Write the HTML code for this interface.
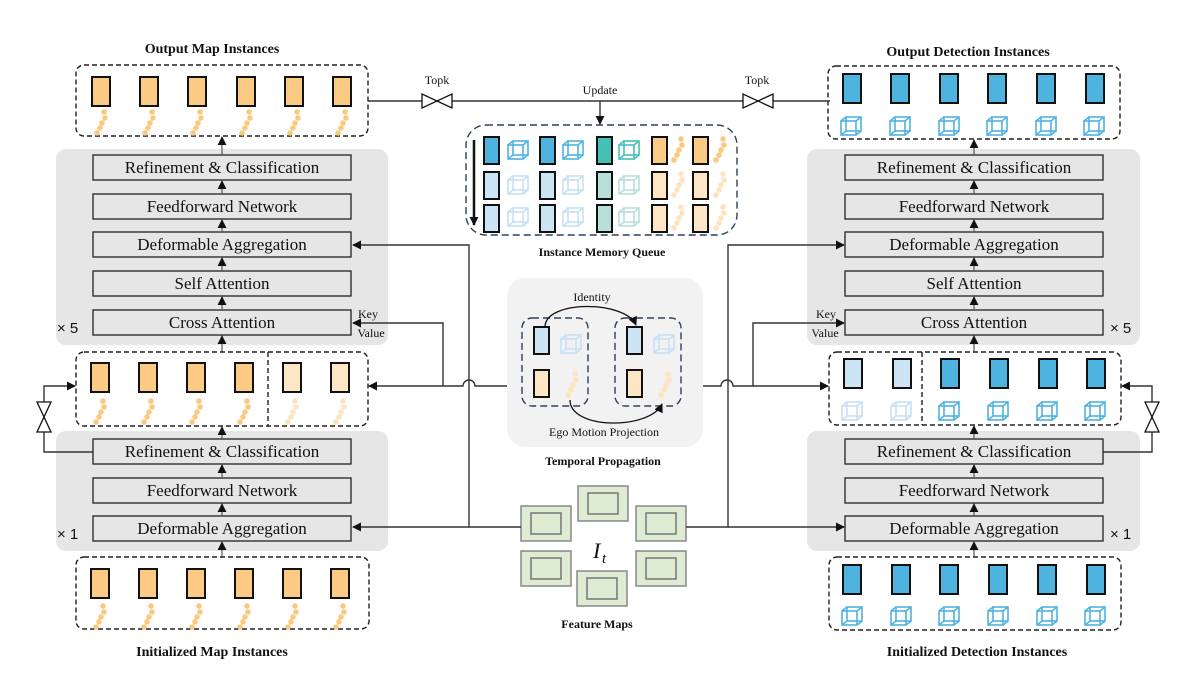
<!DOCTYPE html>
<html><head><meta charset="utf-8"><style>
html,body{margin:0;padding:0;background:#fff}
svg{display:block}
text{font-family:"Liberation Serif",serif;fill:#111}
.b{font-weight:bold;font-size:14px}
.m{font-size:17px}
.s{font-size:12px}
</style></head><body>
<svg width="1201" height="673" viewBox="0 0 1201 673" xmlns="http://www.w3.org/2000/svg">
<defs>
<marker id="ar" viewBox="0 0 10 10" refX="9" refY="5" markerWidth="9" markerHeight="9" markerUnits="userSpaceOnUse" orient="auto"><path d="M0,0L10,5L0,10z" fill="#111"/></marker>
<symbol id="dO" overflow="visible"><g fill="#f9c97f"><circle cx="9" cy="0" r="2.8"/><circle cx="10" cy="6" r="2.8"/><circle cx="7" cy="11" r="2.8"/><circle cx="5" cy="16" r="2.8"/><circle cx="2" cy="21" r="2.8"/></g></symbol>
<symbol id="dL" overflow="visible"><g fill="#fde3bf"><circle cx="9" cy="0" r="2.8"/><circle cx="10" cy="6" r="2.8"/><circle cx="7" cy="11" r="2.8"/><circle cx="5" cy="16" r="2.8"/><circle cx="2" cy="21" r="2.8"/></g></symbol>
<symbol id="cB" overflow="visible"><g fill="none" stroke="#4fb3e2" stroke-width="1.6"><rect x="0" y="4" width="15" height="14"/><rect x="5" y="0" width="15" height="14"/><path d="M0,4L5,0M15,4L20,0M15,18L20,14M0,18L5,14"/></g></symbol>
<symbol id="cL" overflow="visible"><g fill="none" stroke="#c6e0f4" stroke-width="1.6"><rect x="0" y="4" width="15" height="14"/><rect x="5" y="0" width="15" height="14"/><path d="M0,4L5,0M15,4L20,0M15,18L20,14M0,18L5,14"/></g></symbol>
<symbol id="cT" overflow="visible"><g fill="none" stroke="#45c0b5" stroke-width="1.6"><rect x="0" y="4" width="15" height="14"/><rect x="5" y="0" width="15" height="14"/><path d="M0,4L5,0M15,4L20,0M15,18L20,14M0,18L5,14"/></g></symbol>
<symbol id="cTL" overflow="visible"><g fill="none" stroke="#b8dfda" stroke-width="1.6"><rect x="0" y="4" width="15" height="14"/><rect x="5" y="0" width="15" height="14"/><path d="M0,4L5,0M15,4L20,0M15,18L20,14M0,18L5,14"/></g></symbol>
<symbol id="rO" overflow="visible"><rect x="0" y="0" width="18" height="29" fill="#fbcb85" stroke="#111" stroke-width="2"/></symbol>
<symbol id="rOL" overflow="visible"><rect x="0" y="0" width="18" height="29" fill="#fde6c6" stroke="#111" stroke-width="2"/></symbol>
<symbol id="rB" overflow="visible"><rect x="0" y="0" width="18" height="29" fill="#4fb3e0" stroke="#111" stroke-width="2"/></symbol>
<symbol id="rBL" overflow="visible"><rect x="0" y="0" width="18" height="29" fill="#cde4f5" stroke="#111" stroke-width="2"/></symbol>
<symbol id="sB" overflow="visible"><rect x="0" y="0" width="15" height="27" fill="#4fb3e0" stroke="#111" stroke-width="2"/></symbol>
<symbol id="sBL" overflow="visible"><rect x="0" y="0" width="15" height="27" fill="#cde4f5" stroke="#111" stroke-width="2"/></symbol>
<symbol id="sT" overflow="visible"><rect x="0" y="0" width="15" height="27" fill="#45c0b5" stroke="#111" stroke-width="2"/></symbol>
<symbol id="sTL" overflow="visible"><rect x="0" y="0" width="15" height="27" fill="#b8dfda" stroke="#111" stroke-width="2"/></symbol>
<symbol id="sO" overflow="visible"><rect x="0" y="0" width="15" height="27" fill="#fbcb85" stroke="#111" stroke-width="2"/></symbol>
<symbol id="sOL" overflow="visible"><rect x="0" y="0" width="15" height="27" fill="#fde6c6" stroke="#111" stroke-width="2"/></symbol>
<symbol id="fm" overflow="visible"><rect x="0" y="0" width="50" height="35" fill="#dfecd4" stroke="#888" stroke-width="1.5"/><rect x="10" y="7" width="30" height="21" fill="#dfecd4" stroke="#777" stroke-width="1.5"/></symbol>
<symbol id="bt" overflow="visible"><path d="M-7,-15L7,-15L-7,15L7,15Z" fill="#fff" stroke="#111" stroke-width="1.3"/></symbol>
<symbol id="bth" overflow="visible"><path d="M-15,-7L-15,7L15,-7L15,7Z" fill="#fff" stroke="#111" stroke-width="1.3"/></symbol>
</defs>

<rect x="56" y="149" width="332" height="196" rx="10" fill="#e6e6e6"/>
<rect x="56" y="431" width="332" height="120" rx="10" fill="#e6e6e6"/>
<rect x="807" y="149" width="333" height="196" rx="10" fill="#e6e6e6"/>
<rect x="807" y="431" width="333" height="120" rx="10" fill="#e6e6e6"/>
<rect x="507" y="278" width="196" height="169" rx="18" fill="#f2f2f2"/>

<text class="b" x="212" y="53" text-anchor="middle">Output Map Instances</text>
<text class="b" x="968" y="56" text-anchor="middle">Output Detection Instances</text>
<text class="b" x="212" y="656" text-anchor="middle">Initialized Map Instances</text>
<text class="b" x="977" y="656" text-anchor="middle">Initialized Detection Instances</text>
<text class="b" x="602" y="256" text-anchor="middle" style="font-size:12px">Instance Memory Queue</text>
<text class="b" x="603" y="465" text-anchor="middle" style="font-size:12px">Temporal Propagation</text>
<text class="b" x="597" y="628" text-anchor="middle" style="font-size:12px">Feature Maps</text>

<g fill="#e6e6e6" stroke="#222" stroke-width="1.3">
<rect x="93" y="155" width="258" height="25"/><rect x="93" y="194" width="258" height="25"/><rect x="93" y="232" width="258" height="25"/><rect x="93" y="271" width="258" height="25"/><rect x="93" y="310" width="258" height="25"/>
<rect x="93" y="439" width="258" height="25"/><rect x="93" y="478" width="258" height="25"/><rect x="93" y="516" width="258" height="25"/>
<rect x="845" y="155" width="258" height="25"/><rect x="845" y="194" width="258" height="25"/><rect x="845" y="232" width="258" height="25"/><rect x="845" y="271" width="258" height="25"/><rect x="845" y="310" width="258" height="25"/>
<rect x="845" y="439" width="258" height="25"/><rect x="845" y="478" width="258" height="25"/><rect x="845" y="516" width="258" height="25"/>
</g>
<g text-anchor="middle">
<text class="m" x="222" y="173">Refinement &amp; Classification</text>
<text class="m" x="222" y="212">Feedforward Network</text>
<text class="m" x="222" y="250">Deformable Aggregation</text>
<text class="m" x="222" y="289">Self Attention</text>
<text class="m" x="222" y="328">Cross Attention</text>
<text class="m" x="222" y="457">Refinement &amp; Classification</text>
<text class="m" x="222" y="496">Feedforward Network</text>
<text class="m" x="222" y="534">Deformable Aggregation</text>
<text class="m" x="974" y="173">Refinement &amp; Classification</text>
<text class="m" x="974" y="212">Feedforward Network</text>
<text class="m" x="974" y="250">Deformable Aggregation</text>
<text class="m" x="974" y="289">Self Attention</text>
<text class="m" x="974" y="328">Cross Attention</text>
<text class="m" x="974" y="457">Refinement &amp; Classification</text>
<text class="m" x="974" y="496">Feedforward Network</text>
<text class="m" x="974" y="534">Deformable Aggregation</text>
</g>
<text x="57" y="333" style="font-family:'Liberation Sans',sans-serif;font-size:15px">× 5</text>
<text x="57" y="539" style="font-family:'Liberation Sans',sans-serif;font-size:15px">× 1</text>
<text x="1110" y="333" style="font-family:'Liberation Sans',sans-serif;font-size:15px">× 5</text>
<text x="1110" y="539" style="font-family:'Liberation Sans',sans-serif;font-size:15px">× 1</text>

<g stroke="#555" stroke-width="1.2" marker-end="url(#ar)">
<line x1="222" y1="194" x2="222" y2="181"/><line x1="222" y1="232" x2="222" y2="220"/><line x1="222" y1="271" x2="222" y2="258"/><line x1="222" y1="310" x2="222" y2="297"/>
<line x1="222" y1="352" x2="222" y2="336"/><line x1="222" y1="155" x2="222" y2="137"/>
<line x1="222" y1="439" x2="222" y2="427"/><line x1="222" y1="478" x2="222" y2="465"/><line x1="222" y1="516" x2="222" y2="504"/><line x1="222" y1="557" x2="222" y2="542"/>
<line x1="974" y1="194" x2="974" y2="181"/><line x1="974" y1="232" x2="974" y2="220"/><line x1="974" y1="271" x2="974" y2="258"/><line x1="974" y1="310" x2="974" y2="297"/>
<line x1="974" y1="352" x2="974" y2="336"/><line x1="974" y1="155" x2="974" y2="140"/>
<line x1="974" y1="439" x2="974" y2="426"/><line x1="974" y1="478" x2="974" y2="465"/><line x1="974" y1="516" x2="974" y2="504"/><line x1="974" y1="557" x2="974" y2="542"/>
</g>

<g fill="none" stroke="#222" stroke-width="1.4" stroke-dasharray="5,3">
<rect x="76" y="65" width="292" height="71" rx="8"/>
<rect x="76" y="352" width="292" height="74" rx="8"/><line x1="268" y1="352" x2="268" y2="426"/>
<rect x="76" y="557" width="293" height="72" rx="8"/>
<rect x="828" y="66" width="292" height="73" rx="8"/>
<rect x="829" y="352" width="292" height="73" rx="8"/><line x1="922" y1="352" x2="922" y2="425"/>
<rect x="829" y="557" width="292" height="73" rx="8"/>
</g>
<g fill="none" stroke="#2f3f5f" stroke-width="1.4" stroke-dasharray="7,4">
<rect x="466" y="125" width="271" height="110" rx="20"/>
<rect x="522" y="318" width="66" height="88" rx="10"/>
<rect x="615" y="318" width="66" height="88" rx="10"/>
</g>

<g>
<use href="#rO" x="92" y="77"/><use href="#rO" x="140" y="77"/><use href="#rO" x="188" y="77"/><use href="#rO" x="237" y="77"/><use href="#rO" x="285" y="77"/><use href="#rO" x="333" y="77"/>
<use href="#dO" x="95" y="112"/><use href="#dO" x="143" y="112"/><use href="#dO" x="191" y="112"/><use href="#dO" x="240" y="112"/><use href="#dO" x="288" y="112"/><use href="#dO" x="336" y="112"/>
<use href="#rO" x="91" y="363"/><use href="#rO" x="139" y="363"/><use href="#rO" x="187" y="363"/><use href="#rO" x="235" y="363"/><use href="#rOL" x="283" y="363"/><use href="#rOL" x="331" y="363"/>
<use href="#dO" x="94" y="401"/><use href="#dO" x="142" y="401"/><use href="#dO" x="190" y="401"/><use href="#dO" x="238" y="401"/><use href="#dL" x="286" y="401"/><use href="#dL" x="334" y="401"/>
<use href="#rO" x="91" y="569"/><use href="#rO" x="139" y="569"/><use href="#rO" x="187" y="569"/><use href="#rO" x="235" y="569"/><use href="#rO" x="283" y="569"/><use href="#rO" x="331" y="569"/>
<use href="#dO" x="94" y="606"/><use href="#dO" x="142" y="606"/><use href="#dO" x="190" y="606"/><use href="#dO" x="238" y="606"/><use href="#dO" x="286" y="606"/><use href="#dO" x="334" y="606"/>
</g>
<g>
<use href="#rB" x="843" y="74"/><use href="#rB" x="891" y="74"/><use href="#rB" x="940" y="74"/><use href="#rB" x="988" y="74"/><use href="#rB" x="1037" y="74"/><use href="#rB" x="1086" y="74"/>
<use href="#cB" x="841" y="117"/><use href="#cB" x="890" y="117"/><use href="#cB" x="939" y="117"/><use href="#cB" x="987" y="117"/><use href="#cB" x="1036" y="117"/><use href="#cB" x="1084" y="117"/>
<use href="#rBL" x="844" y="359"/><use href="#rBL" x="893" y="359"/><use href="#rB" x="941" y="359"/><use href="#rB" x="990" y="359"/><use href="#rB" x="1039" y="359"/><use href="#rB" x="1087" y="359"/>
<use href="#cL" x="842" y="402"/><use href="#cL" x="891" y="402"/><use href="#cB" x="939" y="402"/><use href="#cB" x="988" y="402"/><use href="#cB" x="1037" y="402"/><use href="#cB" x="1085" y="402"/>
<use href="#rB" x="843" y="565"/><use href="#rB" x="892" y="565"/><use href="#rB" x="940" y="565"/><use href="#rB" x="989" y="565"/><use href="#rB" x="1038" y="565"/><use href="#rB" x="1087" y="565"/>
<use href="#cB" x="842" y="607"/><use href="#cB" x="891" y="607"/><use href="#cB" x="939" y="607"/><use href="#cB" x="988" y="607"/><use href="#cB" x="1037" y="607"/><use href="#cB" x="1085" y="607"/>
</g>

<line x1="474" y1="140" x2="474" y2="225" stroke="#111" stroke-width="2.5" marker-end="url(#ar)"/>
<g>
<use href="#sB" x="484" y="137"/><use href="#cB" x="508" y="141"/><use href="#sB" x="540" y="137"/><use href="#cB" x="563" y="141"/><use href="#sT" x="597" y="137"/><use href="#cT" x="619" y="141"/><use href="#sO" x="652" y="137"/><use href="#dO" x="672" y="139"/><use href="#sO" x="693" y="137"/><use href="#dO" x="714" y="139"/>
<use href="#sBL" x="484" y="172"/><use href="#cL" x="508" y="176"/><use href="#sBL" x="540" y="172"/><use href="#cL" x="563" y="176"/><use href="#sTL" x="597" y="172"/><use href="#cTL" x="619" y="176"/><use href="#sOL" x="652" y="172"/><use href="#dL" x="672" y="174"/><use href="#sOL" x="693" y="172"/><use href="#dL" x="714" y="174"/>
<use href="#sBL" x="484" y="205"/><use href="#cL" x="508" y="208"/><use href="#sBL" x="540" y="205"/><use href="#cL" x="563" y="208"/><use href="#sTL" x="597" y="205"/><use href="#cTL" x="619" y="208"/><use href="#sOL" x="652" y="205"/><use href="#dL" x="672" y="207"/><use href="#sOL" x="693" y="205"/><use href="#dL" x="714" y="207"/>
</g>

<use href="#sBL" x="534" y="327"/><use href="#cL" x="561" y="335"/>
<use href="#sOL" x="534" y="370"/><use href="#dL" x="566" y="374"/>
<use href="#sBL" x="627" y="327"/><use href="#cL" x="654" y="335"/>
<use href="#sOL" x="627" y="370"/><use href="#dL" x="659" y="374"/>
<text class="s" x="592" y="301" text-anchor="middle">Identity</text>
<text class="s" x="604" y="436" text-anchor="middle">Ego Motion Projection</text>
<path d="M545,327 C545,300 625,300 636,325" fill="none" stroke="#111" stroke-width="1.3" marker-end="url(#ar)"/>
<path d="M570,400 C570,430 650,430 662,404" fill="none" stroke="#111" stroke-width="1.3" marker-end="url(#ar)"/>

<use href="#fm" x="578" y="486"/><use href="#fm" x="521" y="506"/><use href="#fm" x="636" y="506"/>
<use href="#fm" x="521" y="551"/><use href="#fm" x="636" y="551"/><use href="#fm" x="577" y="571"/>
<text x="593" y="558" style="font-size:22px;font-style:italic">I</text><text x="602" y="563" style="font-size:15px;font-style:italic">t</text>

<g fill="none" stroke="#333" stroke-width="1.4">
<path d="M368,101 H830"/>
<path d="M600,101 V124" marker-end="url(#ar)"/>
<path d="M521,527 H469 V245 H353" marker-end="url(#ar)"/>
<path d="M469,527 H353" marker-end="url(#ar)"/>
<path d="M507,386 H475 A6,6 0 0 0 463,386 H369" marker-end="url(#ar)"/>
<path d="M443,386 V323 H353" marker-end="url(#ar)"/>
<path d="M93,452 H44 V386 H75" marker-end="url(#ar)"/>
<path d="M686,527 H728 V245 H844" marker-end="url(#ar)"/>
<path d="M728,527 H844" marker-end="url(#ar)"/>
<path d="M703,386 H721 A6,6 0 0 1 733,386 H828" marker-end="url(#ar)"/>
<path d="M753,386 V323 H844" marker-end="url(#ar)"/>
<path d="M1103,452 H1152 V386 H1122" marker-end="url(#ar)"/>
</g>
<use href="#bth" x="437" y="101"/><use href="#bth" x="758" y="101"/>
<use href="#bt" x="44" y="417"/><use href="#bt" x="1152" y="417"/>
<text class="s" x="437" y="84" text-anchor="middle">Topk</text>
<text class="s" x="757" y="84" text-anchor="middle">Topk</text>
<text class="s" x="600" y="94" text-anchor="middle">Update</text>
<text class="s" x="368" y="318" text-anchor="middle">Key</text>
<text class="s" x="371" y="337" text-anchor="middle">Value</text>
<text class="s" x="826" y="318" text-anchor="middle">Key</text>
<text class="s" x="825" y="337" text-anchor="middle">Value</text>
</svg>
</body></html>
